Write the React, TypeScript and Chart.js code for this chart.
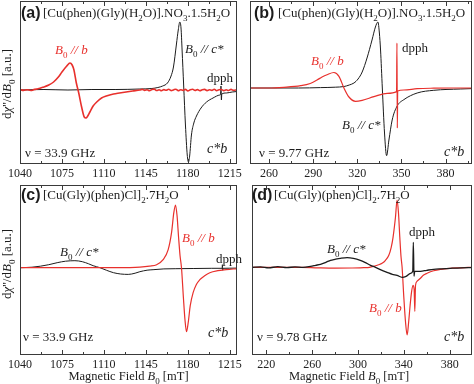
import { useEffect, useRef } from "react";
import { Chart, registerables } from "chart.js";
Chart.register(...registerables);

// ---------------- data (field in mT, signal in a.u.) ----------------
const A_TICKS = [1040, 1075, 1110, 1145, 1180, 1215];
const B_TICKS = [260, 290, 320, 350, 380];
const C_TICKS = [1040, 1075, 1110, 1145, 1180, 1215];
const D_TICKS = [220, 260, 300, 340, 380];

// (a) 33.9 GHz, [Cu(phen)(Gly)(H2O)].NO3.1.5H2O
const A_RED = [
  [1040, 0.5], [1043, -0.4], [1046, 0.3], [1049, -0.5], [1052, 0.6], [1055, 1.2], [1059, 2.7], [1064, 5],
  [1068, 8], [1072, 13], [1075, 18], [1079, 24], [1081.7, 27], [1083.5, 25], [1085, 20], [1087, 7],
  [1089, -3], [1091.4, -17], [1093.6, -27], [1095, -28], [1096.5, -26], [1098.3, -22], [1101, -16],
  [1104, -12], [1108, -8], [1112, -6], [1118, -4], [1123, -3], [1134, -1], [1140, 0], [1142, 0.6],
  [1144, -0.4], [1146, 0.3], [1148, -0.7], [1150, 0.5], [1152, 0.9], [1154, -0.5], [1156, 0.2],
  [1158, -0.8], [1160, 0.4], [1162, -0.2], [1164, 0.7], [1166, -0.6], [1168, 0.1], [1170, 0.8],
  [1172, -0.7], [1174, 0.3], [1176, -0.4], [1178, 0.6], [1180, -0.9], [1182, 0.2], [1184, 0.7],
  [1186, -0.5], [1188, 0.4], [1190, -0.8], [1192, 0.3], [1194, 0.6], [1196, -0.6], [1198, 0.2],
  [1200, -0.4], [1202, 0.8], [1204, -0.7], [1206, 0.3], [1208, 0.5], [1210, -0.6], [1212, 0.2],
  [1214, -0.5], [1216, 0.6], [1218, -0.3], [1221, 0.2],
];
const A_BLACK = [
  [1040, 0], [1060, 0.5], [1080, 0], [1100, 0.5], [1120, 0.5], [1140, 1], [1150, 1.5], [1155, 2.5],
  [1159, 4], [1163, 7], [1166, 14], [1168, 23], [1170.5, 46], [1172, 60], [1173.3, 68], [1174.3, 62],
  [1175.2, 40], [1176.5, 5], [1178, -35], [1179.5, -65], [1180.5, -72], [1181.5, -66], [1183, -45],
  [1185, -33], [1187.2, -26], [1191, -18], [1195.6, -12], [1201, -8], [1206.7, -5], [1207.3, -4.5],
  [1207.6, 4], [1208, -10], [1208.3, -4], [1212, -3], [1217, -2], [1221, -1.5],
];

// (b) 9.77 GHz
const B_RED = [
  [247, 0], [260, 0], [270, 0.7], [281.5, 2.3], [288, 4.5], [292.6, 8], [296, 11], [299.4, 13.3],
  [304.1, 15.5], [307.5, 11.7], [310.9, 0], [314.3, -9], [318.8, -13.3], [323.3, -12.3], [331.3, -8.7],
  [340.3, -5.3], [346.7, -3.6], [346.95, 45], [347.2, -40], [347.45, -3], [351.6, -2], [360.7, -0.7],
  [372, -0.2], [385, 0], [398, 0],
];
const B_BLACK = [
  [247, 0], [280, 0], [295, 0.4], [305, 0.8], [311, 1.5], [314.5, 3], [317.7, 5], [320.5, 9],
  [323.3, 16], [326.6, 30], [330, 48], [332.3, 61], [334, 66], [335, 55], [335.8, 38], [337, 0],
  [338.5, -45], [339.9, -67.7], [341.5, -52], [343.7, -32], [347.1, -18], [351.6, -11.7],
  [360.7, -5], [372, -2.3], [390, -1], [398, -0.6],
];

// (c) 33.9 GHz, [Cu(Gly)(phen)Cl]2.7H2O
const C_RED = [
  [1040, 0], [1080, 0], [1120, 0], [1140, 0.5], [1148, 1.5], [1154, 3], [1159.4, 8], [1163.6, 18],
  [1166.4, 35], [1168.3, 55], [1169.7, 62.7], [1171, 52], [1172.3, 30], [1173.5, 12], [1174.7, 0],
  [1176.3, -30], [1177.6, -52], [1178.9, -64], [1180.3, -55], [1182, -38], [1184.4, -25], [1187, -17],
  [1190, -12], [1194, -8], [1198.3, -5], [1205, -3], [1212, -2], [1221, -1],
];
const C_BLACK = [
  [1040, 0], [1050, 0.5], [1057, 1.5], [1064, 3], [1071, 5], [1078, 6.5], [1085.8, 7], [1092, 6],
  [1097, 4], [1101, 2], [1106.7, 0], [1112, -2.5], [1118, -5], [1124, -6.3], [1130.3, -6.7],
  [1136, -5.5], [1140, -4], [1146, -2.5], [1151, -2], [1160, -1.2], [1170, -1], [1185, -0.8],
  [1200, -0.6], [1208.6, -0.6], [1208.8, 3], [1209.1, -2.5], [1209.4, -0.6], [1215, -0.5], [1221, -0.4],
];

// (d) 9.78 GHz
const D_BLACK = [
  [207.5, 0], [215, 0.5], [222, -0.5], [230, 0.6], [238, -0.4], [245, 0.5], [252, 0], [258.6, 1],
  [263, 2], [267.3, 3], [272, 5], [276, 7], [280, 8], [284.7, 9], [290.5, 9.7], [296, 9], [302, 7],
  [306, 5], [311, 2], [315.3, 0], [320, -2.5], [325.4, -5], [330, -7], [334.1, -8], [338.5, -10],
  [342, -9], [345.8, -6], [347.8, -4], [348.3, 25], [348.9, -9], [349.5, -4], [354.5, -4], [360, -3],
  [366, -2], [373, -1.5], [380.7, -1], [390, -0.5], [399.5, -0.3],
];
const D_RED = [
  [207.5, 0], [230, 0], [250, 0], [265, -0.5], [280, -0.8], [295, -0.7], [305, -0.3], [310, 0],
  [313.8, 1], [318, 2.5], [321, 4], [324, 7], [326.9, 12], [329, 20], [330.6, 30], [332.7, 50],
  [334.1, 67.3], [335.3, 55], [336.5, 30], [337.6, 10], [338.5, 0], [340, -30], [341.5, -55],
  [342.9, -67.7], [344.2, -55], [345.5, -38], [346.7, -25], [348, -18], [349, -22], [349.6, -44],
  [350.2, -18], [351.5, -14], [354.5, -11], [357, -8], [360.3, -6], [366, -3.5], [372, -2],
  [380, -1], [390, -0.5], [399.5, 0],
];

// ---------------- styling ----------------
const RED = "#e8302c";
const BLACK = "#1c1c1c";
const SERIF = '"Liberation Serif", "Times New Roman", serif';
const SANS = '"Liberation Sans", Arial, sans-serif';

type Seg = [string, string];
const TITLE_AB: Seg[] = [["r", "[Cu(phen)(Gly)(H"], ["s", "2"], ["r", "O)].NO"], ["s", "3"], ["r", ".1.5H"], ["s", "2"], ["r", "O"]];
const TITLE_CD: Seg[] = [["r", "[Cu(Gly)(phen)Cl]"], ["s", "2"], ["r", ".7H"], ["s", "2"], ["r", "O"]];
const B0B: Seg[] = [["i", "B"], ["s", "0"], ["i", " // b"]];
const B0C: Seg[] = [["i", "B"], ["s", "0"], ["i", " // c*"]];
const YT: Seg[] = [["r", "d"], ["i", "χ"], ["r", "''/d"], ["i", "B"], ["s", "0"], ["r", " [a.u.]"]];
const XT: Seg[] = [["r", "Magnetic Field "], ["i", "B"], ["s", "0"], ["r", " [mT]"]];

function segFont(st: string, size: number) {
  if (st === "b") return `bold ${size}px ${SANS}`;
  if (st === "i") return `italic ${size}px ${SERIF}`;
  if (st === "s") return `${Math.round(size * 0.72)}px ${SERIF}`;
  return `${size}px ${SERIF}`;
}

function drawRich(ctx: CanvasRenderingContext2D, t: any) {
  const size = t.size || 13;
  ctx.save();
  ctx.fillStyle = t.color || BLACK;
  ctx.textBaseline = "alphabetic";
  ctx.textAlign = "left";
  let w = 0;
  for (const [st, s] of t.segs as Seg[]) {
    ctx.font = segFont(st, size);
    w += ctx.measureText(s).width;
  }
  ctx.translate(t.x, t.y);
  if (t.rot) ctx.rotate(-Math.PI / 2);
  let x = t.align === "center" || t.rot ? -w / 2 : 0;
  for (const [st, s] of t.segs as Seg[]) {
    ctx.font = segFont(st, size);
    const dy = st === "s" ? size * 0.28 : 0;
    ctx.fillText(s, x, dy);
    x += ctx.measureText(s).width;
  }
  ctx.restore();
}

const decoPlugin = {
  id: "panelDeco",
  afterDraw(chart: any, _args: any, opts: any) {
    const { ctx, chartArea: a } = chart;
    const xs = chart.scales.x;
    ctx.save();
    ctx.strokeStyle = "#3a3a3a";
    ctx.lineWidth = 1;
    ctx.strokeRect(a.left + 0.5, a.top + 0.5, a.right - a.left - 1, a.bottom - a.top - 1);
    const majors: number[] = opts.ticks;
    const step = majors[1] - majors[0];
    const marks: [number, number][] = [];
    majors.forEach((v) => marks.push([v, 5]));
    [majors[0] - step / 2, ...majors.map((v) => v + step / 2)].forEach((v) => marks.push([v, 3]));
    ctx.beginPath();
    for (const [v, len] of marks) {
      if (v < xs.min || v > xs.max) continue;
      const px = Math.round(xs.getPixelForValue(v)) + 0.5;
      ctx.moveTo(px, a.bottom);
      ctx.lineTo(px, a.bottom - len);
      ctx.moveTo(px, a.top);
      ctx.lineTo(px, a.top + len);
    }
    ctx.stroke();
    ctx.restore();
    for (const t of opts.texts) drawRich(ctx, t);
  },
};

const line = (pts: number[][], color: string, width: number) => ({
  data: pts.map(([x, y]) => ({ x, y })),
  borderColor: color,
  borderWidth: width,
  pointRadius: 0,
  cubicInterpolationMode: "monotone",
  fill: false,
});

const PANELS = [
  {
    left: 0, top: 0, w: 246, h: 182, padL: 20, padR: 9, padT: 1, axisH: 18,
    xmin: 1040, xmax: 1221, ymin: -74, ymax: 89, ticks: A_TICKS,
    datasets: [line(A_RED, RED, 1.6), line(A_BLACK, BLACK, 1)],
    texts: [
      { segs: [["b", "(a)"]], x: 21, y: 18, size: 16 },
      { segs: TITLE_AB, x: 43, y: 17, size: 13 },
      { segs: B0B, x: 55, y: 54, size: 13, color: RED },
      { segs: B0C, x: 185, y: 53, size: 13 },
      { segs: [["r", "dpph"]], x: 207, y: 82, size: 13 },
      { segs: [["r", "ν = 33.9 GHz"]], x: 25, y: 157, size: 13 },
      { segs: [["i", "c*b"]], x: 207, y: 153, size: 14 },
      { segs: YT, x: 11, y: 84, size: 13, rot: true },
    ],
  },
  {
    left: 240, top: 0, w: 234, h: 182, padL: 10, padR: 2, padT: 1, axisH: 18,
    xmin: 247, xmax: 398, ymin: -76, ymax: 87, ticks: B_TICKS,
    datasets: [line(B_RED, RED, 1.2), line(B_BLACK, BLACK, 1)],
    texts: [
      { segs: [["b", "(b)"]], x: 14, y: 18, size: 16 },
      { segs: TITLE_AB, x: 38, y: 17, size: 13 },
      { segs: [["r", "dpph"]], x: 162, y: 52, size: 13 },
      { segs: B0B, x: 71, y: 65, size: 13, color: RED },
      { segs: B0C, x: 102, y: 129, size: 13 },
      { segs: [["r", "ν = 9.77 GHz"]], x: 19, y: 157, size: 13 },
      { segs: [["i", "c*b"]], x: 204, y: 156, size: 14 },
    ],
  },
  {
    left: 0, top: 182, w: 246, h: 202, padL: 20, padR: 9, padT: 3, axisH: 29,
    xmin: 1040, xmax: 1221, ymin: -87.3, ymax: 82.7, ticks: C_TICKS,
    datasets: [line(C_RED, RED, 1.2), line(C_BLACK, BLACK, 1)],
    texts: [
      { segs: [["b", "(c)"]], x: 21, y: 18, size: 16 },
      { segs: TITLE_CD, x: 43, y: 17, size: 13 },
      { segs: B0B, x: 182, y: 60, size: 13, color: RED },
      { segs: B0C, x: 60, y: 74, size: 13 },
      { segs: [["r", "dpph"]], x: 216, y: 81, size: 13 },
      { segs: [["r", "ν = 33.9 GHz"]], x: 23, y: 159, size: 13 },
      { segs: [["i", "c*b"]], x: 208, y: 155, size: 14 },
      { segs: YT, x: 11, y: 82, size: 13, rot: true },
      { segs: XT, x: 128.5, y: 198, size: 12.5, align: "center" },
    ],
  },
  {
    left: 240, top: 182, w: 234, h: 202, padL: 12, padR: 2, padT: 3, axisH: 29,
    xmin: 207.5, xmax: 399.5, ymin: -87.7, ymax: 82.3, ticks: D_TICKS,
    datasets: [line(D_BLACK, BLACK, 1.3), line(D_RED, RED, 1.2)],
    texts: [
      { segs: [["b", "(d)"]], x: 12, y: 18, size: 16 },
      { segs: TITLE_CD, x: 34, y: 17, size: 13 },
      { segs: [["r", "dpph"]], x: 169, y: 54, size: 13 },
      { segs: B0C, x: 87, y: 71, size: 13 },
      { segs: B0B, x: 129, y: 130, size: 13, color: RED },
      { segs: [["r", "ν = 9.78 GHz"]], x: 17, y: 159, size: 13 },
      { segs: [["i", "c*b"]], x: 204, y: 159, size: 14 },
      { segs: XT, x: 109, y: 198, size: 12.5, align: "center" },
    ],
  },
];

function makeConfig(p: any): any {
  return {
    type: "line",
    data: { datasets: p.datasets },
    plugins: [decoPlugin],
    options: {
      animation: false,
      responsive: false,
      devicePixelRatio: 1,
      layout: { padding: { left: p.padL, right: p.padR, top: p.padT, bottom: 0 } },
      plugins: {
        legend: { display: false },
        tooltip: { enabled: false },
        panelDeco: { ticks: p.ticks, texts: p.texts },
      },
      scales: {
        x: {
          type: "linear",
          min: p.xmin,
          max: p.xmax,
          grid: { display: false, drawTicks: false },
          border: { display: false },
          ticks: {
            font: { family: SERIF, size: 12 },
            color: "#222",
            padding: 3,
            maxRotation: 0,
            autoSkip: false,
            callback: (v: number) => String(v),
          },
          afterBuildTicks: (s: any) => {
            s.ticks = p.ticks.map((v: number) => ({ value: v }));
          },
          afterFit: (s: any) => {
            s.height = p.axisH;
            s.paddingLeft = 0;
            s.paddingRight = 0;
          },
        },
        y: { display: false, min: p.ymin, max: p.ymax },
      },
    },
  };
}

export default function App() {
  const refs = useRef<(HTMLCanvasElement | null)[]>([]);
  useEffect(() => {
    document.body.style.margin = "0";
    const charts = PANELS.map((p, i) => new Chart(refs.current[i] as HTMLCanvasElement, makeConfig(p)));
    return () => charts.forEach((c) => c.destroy());
  }, []);
  return (
    <div style={{ position: "relative", width: 474, height: 384, background: "#fff" }}>
      {PANELS.map((p, i) => (
        <canvas
          key={i}
          ref={(el) => {
            refs.current[i] = el;
          }}
          width={p.w}
          height={p.h}
          style={{ position: "absolute", left: p.left, top: p.top, width: p.w, height: p.h }}
        />
      ))}
    </div>
  );
}
